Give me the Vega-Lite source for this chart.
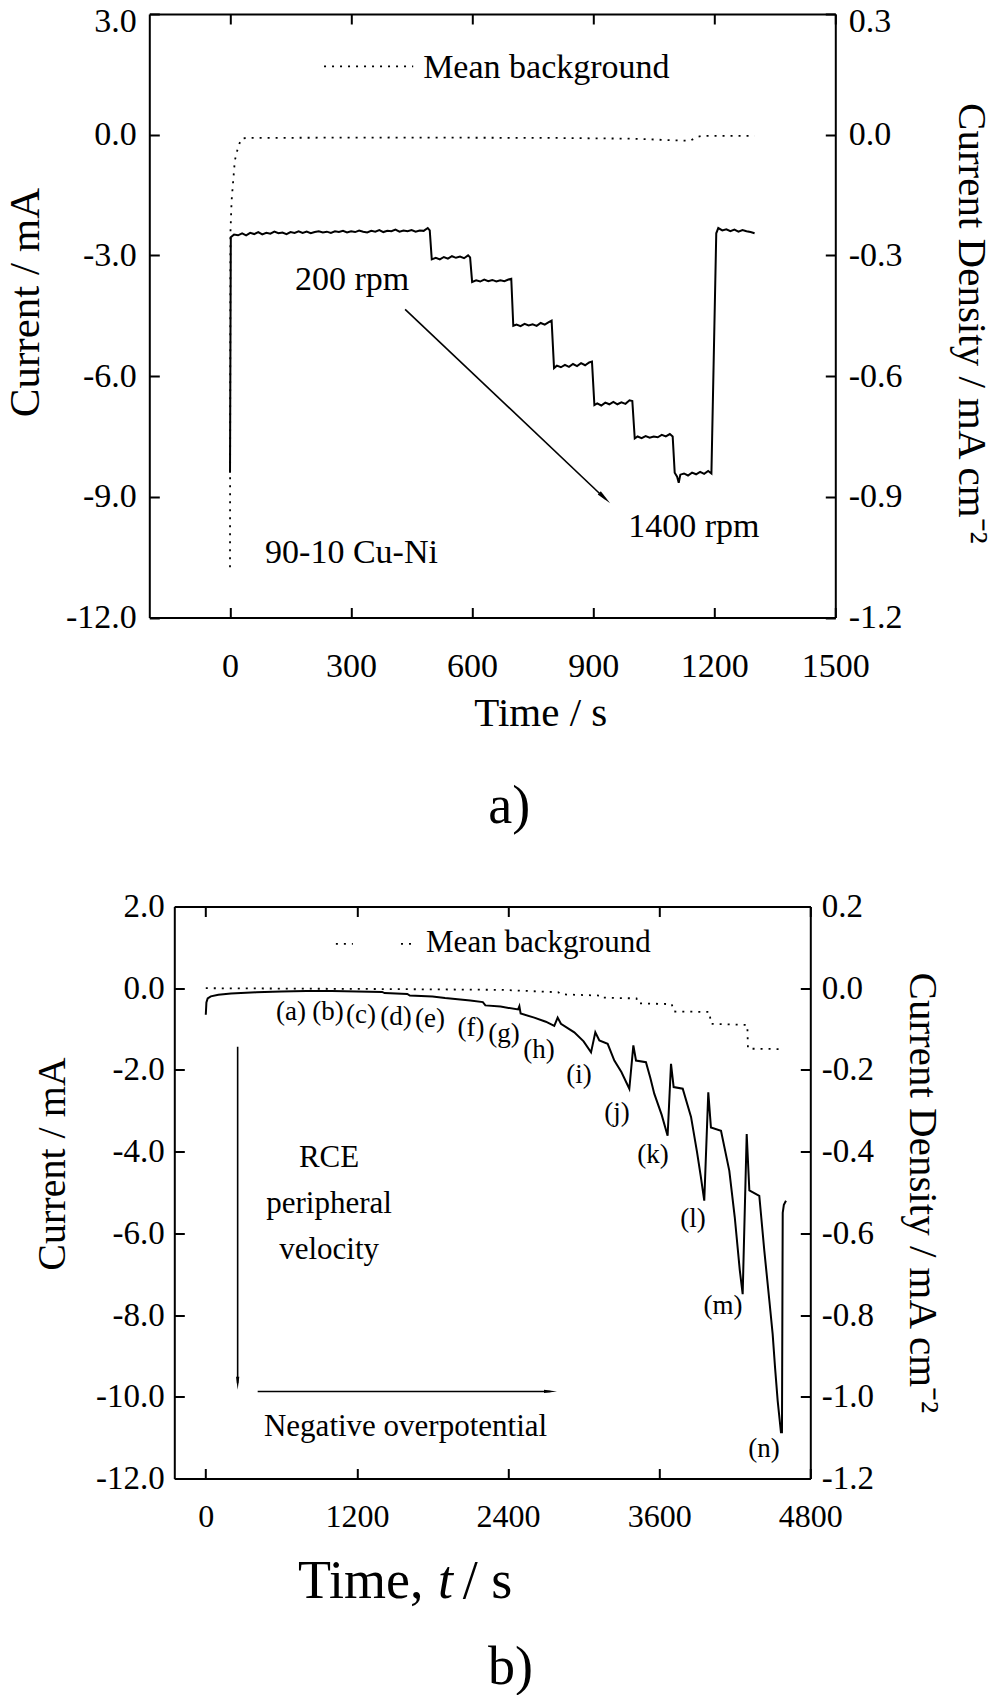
{
  "$schema": "https://vega.github.io/schema/vega-lite/v6.json",
  "autosize": {"type": "none"},
  "padding": {"left": 149.3, "top": 14, "right": 850.7, "bottom": 1681},
  "background": "white",
  "bounds": "flush",
  "center": true,
  "spacing": 288.5,
  "config": {
    "font": "Liberation Serif",
    "locale": {"number": {"decimal": ".", "thousands": ",", "grouping": [3], "currency": ["$", ""], "minus": "-"}},
    "view": {"stroke": null},
    "axis": {
      "grid": false, "domainColor": "black", "domainWidth": 2, "tickColor": "black", "tickWidth": 2,
      "tickSize": -10, "labelColor": "black", "titleColor": "black", "labelFont": "Liberation Serif",
      "titleFont": "Liberation Serif", "titleFontWeight": "normal", "labelFlush": false, "labelOverlap": false
    }
  },
  "datasets": {
    "a_main": [
      {"t":0,"I":-8.4},{"t":2,"I":-2.55},{"t":10,"I":-2.48},{"t":20,"I":-2.5},{"t":30,"I":-2.45},{"t":40,"I":-2.5},{"t":50,"I":-2.44},{"t":60,"I":-2.47},{"t":70,"I":-2.42},{"t":80,"I":-2.48},{"t":90,"I":-2.44},{"t":100,"I":-2.46},{"t":110,"I":-2.41},{"t":120,"I":-2.45},{"t":130,"I":-2.43},{"t":140,"I":-2.47},{"t":150,"I":-2.42},{"t":160,"I":-2.44},{"t":170,"I":-2.4},{"t":180,"I":-2.44},{"t":190,"I":-2.41},{"t":200,"I":-2.45},{"t":210,"I":-2.42},{"t":220,"I":-2.4},{"t":230,"I":-2.43},{"t":240,"I":-2.41},{"t":250,"I":-2.44},{"t":260,"I":-2.4},{"t":270,"I":-2.42},{"t":280,"I":-2.39},{"t":290,"I":-2.43},{"t":300,"I":-2.4},{"t":310,"I":-2.42},{"t":320,"I":-2.38},{"t":330,"I":-2.41},{"t":340,"I":-2.43},{"t":350,"I":-2.39},{"t":360,"I":-2.41},{"t":370,"I":-2.37},{"t":380,"I":-2.42},{"t":390,"I":-2.39},{"t":400,"I":-2.4},{"t":410,"I":-2.36},{"t":420,"I":-2.41},{"t":430,"I":-2.38},{"t":440,"I":-2.4},{"t":450,"I":-2.37},{"t":460,"I":-2.41},{"t":470,"I":-2.38},{"t":480,"I":-2.39},{"t":490,"I":-2.32},{"t":495,"I":-2.38},
      {"t":500,"I":-3.1},{"t":510,"I":-3.06},{"t":520,"I":-3.1},{"t":530,"I":-3.04},{"t":540,"I":-3.08},{"t":550,"I":-3.02},{"t":560,"I":-3.06},{"t":570,"I":-3.03},{"t":580,"I":-3.07},{"t":590,"I":-3.0},{"t":595,"I":-3.05},
      {"t":600,"I":-3.66},{"t":610,"I":-3.62},{"t":620,"I":-3.65},{"t":630,"I":-3.6},{"t":640,"I":-3.64},{"t":650,"I":-3.61},{"t":660,"I":-3.65},{"t":670,"I":-3.62},{"t":680,"I":-3.64},{"t":690,"I":-3.6},{"t":697,"I":-3.58},
      {"t":702,"I":-4.75},{"t":710,"I":-4.72},{"t":720,"I":-4.76},{"t":730,"I":-4.7},{"t":740,"I":-4.74},{"t":750,"I":-4.71},{"t":760,"I":-4.75},{"t":770,"I":-4.68},{"t":780,"I":-4.72},{"t":790,"I":-4.66},{"t":797,"I":-4.62},
      {"t":803,"I":-5.8},{"t":810,"I":-5.74},{"t":820,"I":-5.78},{"t":830,"I":-5.72},{"t":840,"I":-5.77},{"t":850,"I":-5.7},{"t":860,"I":-5.75},{"t":870,"I":-5.68},{"t":880,"I":-5.73},{"t":890,"I":-5.66},{"t":897,"I":-5.64},
      {"t":903,"I":-6.72},{"t":910,"I":-6.68},{"t":920,"I":-6.73},{"t":930,"I":-6.66},{"t":940,"I":-6.7},{"t":950,"I":-6.64},{"t":960,"I":-6.7},{"t":970,"I":-6.65},{"t":980,"I":-6.69},{"t":990,"I":-6.6},{"t":997,"I":-6.62},
      {"t":1003,"I":-7.55},{"t":1010,"I":-7.5},{"t":1020,"I":-7.54},{"t":1030,"I":-7.49},{"t":1040,"I":-7.53},{"t":1050,"I":-7.5},{"t":1060,"I":-7.52},{"t":1070,"I":-7.46},{"t":1080,"I":-7.5},{"t":1090,"I":-7.44},{"t":1097,"I":-7.5},
      {"t":1102,"I":-8.4},{"t":1108,"I":-8.5},{"t":1112,"I":-8.65},{"t":1116,"I":-8.45},{"t":1125,"I":-8.42},{"t":1135,"I":-8.47},{"t":1145,"I":-8.4},{"t":1155,"I":-8.44},{"t":1165,"I":-8.38},{"t":1175,"I":-8.43},{"t":1185,"I":-8.36},{"t":1193,"I":-8.42},
      {"t":1205,"I":-2.45},{"t":1210,"I":-2.32},{"t":1220,"I":-2.38},{"t":1230,"I":-2.35},{"t":1240,"I":-2.4},{"t":1250,"I":-2.36},{"t":1260,"I":-2.41},{"t":1270,"I":-2.37},{"t":1280,"I":-2.4},{"t":1290,"I":-2.42},{"t":1300,"I":-2.45}
    ],
    "a_bg": [
      {"t":0,"I":-10.75},{"t":1,"I":-2.45},{"t":4,"I":-1.63},{"t":12,"I":-0.64},{"t":20,"I":-0.31},{"t":28,"I":-0.1},{"t":40,"I":-0.08},{"t":400,"I":-0.07},{"t":800,"I":-0.08},{"t":1000,"I":-0.1},{"t":1100,"I":-0.14},{"t":1140,"I":-0.15},{"t":1160,"I":-0.05},{"t":1170,"I":-0.03},{"t":1300,"I":-0.03}
    ],
    "b_main": [
      {"t":0,"I":-0.65},{"t":5,"I":-0.35},{"t":15,"I":-0.25},{"t":40,"I":-0.2},{"t":100,"I":-0.16},{"t":200,"I":-0.13},{"t":400,"I":-0.1},{"t":600,"I":-0.08},{"t":800,"I":-0.07},{"t":1000,"I":-0.07},{"t":1200,"I":-0.08},{"t":1400,"I":-0.09},{"t":1420,"I":-0.12},{"t":1600,"I":-0.14},{"t":1620,"I":-0.18},{"t":1800,"I":-0.2},{"t":1900,"I":-0.24},{"t":2000,"I":-0.27},{"t":2100,"I":-0.3},{"t":2200,"I":-0.34},{"t":2220,"I":-0.42},{"t":2340,"I":-0.45},{"t":2480,"I":-0.52},{"t":2490,"I":-0.44},{"t":2500,"I":-0.62},{"t":2608,"I":-0.72},{"t":2700,"I":-0.82},{"t":2767,"I":-0.92},{"t":2794,"I":-0.72},{"t":2820,"I":-0.87},{"t":2926,"I":-1.08},{"t":3000,"I":-1.3},{"t":3059,"I":-1.57},{"t":3093,"I":-1.08},{"t":3125,"I":-1.28},{"t":3191,"I":-1.36},{"t":3244,"I":-1.77},{"t":3300,"I":-2.05},{"t":3363,"I":-2.46},{"t":3395,"I":-1.4},{"t":3416,"I":-1.77},{"t":3495,"I":-1.81},{"t":3530,"I":-2.2},{"t":3561,"I":-2.58},{"t":3620,"I":-3.1},{"t":3667,"I":-3.61},{"t":3694,"I":-1.85},{"t":3715,"I":-2.42},{"t":3787,"I":-2.46},{"t":3853,"I":-3.15},{"t":3900,"I":-4.0},{"t":3930,"I":-4.6},{"t":3958,"I":-5.2},{"t":3990,"I":-2.55},{"t":4011,"I":-3.41},{"t":4091,"I":-3.49},{"t":4157,"I":-4.47},{"t":4200,"I":-5.6},{"t":4240,"I":-6.9},{"t":4263,"I":-7.49},{"t":4295,"I":-3.57},{"t":4316,"I":-4.95},{"t":4395,"I":-5.08},{"t":4435,"I":-6.43},{"t":4475,"I":-7.65},{"t":4501,"I":-8.46},{"t":4520,"I":-9.28},{"t":4541,"I":-10.1},{"t":4567,"I":-10.87},{"t":4575,"I":-10.87},{"t":4581,"I":-5.5},{"t":4590,"I":-5.3},{"t":4607,"I":-5.2}
    ],
    "b_bg": [
      {"t":0,"I":0.0},{"t":1400,"I":-0.02},{"t":2350,"I":-0.04},{"t":2800,"I":-0.1},{"t":2820,"I":-0.15},{"t":3130,"I":-0.18},{"t":3140,"I":-0.23},{"t":3420,"I":-0.25},{"t":3430,"I":-0.37},{"t":3700,"I":-0.39},{"t":3715,"I":-0.57},{"t":4000,"I":-0.58},{"t":4010,"I":-0.87},{"t":4300,"I":-0.9},{"t":4305,"I":-1.48},{"t":4575,"I":-1.49}
    ]
  },
  "vconcat": [
    {
      "width": 686,
      "height": 603.5,
      "layer": [
        {
          "encoding": {
            "x": {"field": "t", "type": "quantitative", "scale": {"domain": [-200, 1500], "nice": false, "zero": false},
              "axis": {"orient": "bottom", "values": [0, 300, 600, 900, 1200, 1500], "format": "d", "labelFontSize": 34, "labelPadding": 42,
                "title": "Time / s", "titleFontSize": 41, "titleX": 391, "titleY": 107.5, "titleAlign": "center", "titleBaseline": "alphabetic", "titleAngle": 0}},
            "y": {"field": "I", "type": "quantitative", "scale": {"domain": [-12, 3], "nice": false, "zero": false},
              "axis": {"orient": "left", "values": [-12, -9, -6, -3, 0, 3], "format": ".1f", "labelFontSize": 34, "labelPadding": 23,
                "labelOffset": {"condition": {"test": "datum.value >= 2.9", "value": 7}, "value": 0},
                "title": "Current / mA", "titleFontSize": 43, "titleX": -111, "titleY": 288, "titleAngle": -90, "titleAlign": "center", "titleBaseline": "alphabetic"}}
          },
          "layer": [
            {"data": {"name": "a_bg"}, "mark": {"type": "line", "color": "black", "strokeWidth": 1.8, "strokeDash": [2, 6], "strokeCap": "butt"}},
            {"data": {"name": "a_main"}, "mark": {"type": "line", "color": "black", "strokeWidth": 2}},
            {"data": {"values": [{"t": 233, "I": 1.696}, {"t": 454, "I": 1.696}]}, "mark": {"type": "line", "color": "black", "strokeWidth": 1.8, "strokeDash": [2, 6], "strokeCap": "butt"}},
            {"data": {"values": [{"t": 434, "I": -4.34}, {"t": 931, "I": -9.06}]}, "mark": {"type": "line", "color": "black", "strokeWidth": 1.6}},
            {"data": {"values": [{"t": 928.6, "I": -9.03}]}, "mark": {"type": "point", "filled": true, "color": "black", "opacity": 1, "shape": "M0,-1L0.3,1L-0.3,1Z", "size": 225, "angle": 133.4}},
            {"data": {"values": [
              {"t": 478.6, "I": 1.40, "label": "Mean background"},
              {"t": 161, "I": -3.87, "label": "200 rpm"},
              {"t": 987, "I": -10.0, "label": "1400 rpm"},
              {"t": 87, "I": -10.65, "label": "90-10 Cu-Ni"}
            ]}, "mark": {"type": "text", "align": "left", "baseline": "alphabetic", "fontSize": 34, "color": "black"}, "encoding": {"text": {"field": "label"}}},
            {"data": {"values": [{"t": 640, "I": -17.11, "label": "a)"}]}, "mark": {"type": "text", "align": "left", "baseline": "alphabetic", "fontSize": 54, "color": "black"}, "encoding": {"text": {"field": "label"}}}
          ]
        },
        {
          "data": {"values": [{"t": 0, "cd": 0}]},
          "mark": {"type": "point", "opacity": 0},
          "encoding": {
            "x": {"field": "t", "type": "quantitative", "scale": {"domain": [-200, 1500], "nice": false, "zero": false},
              "axis": {"orient": "top", "values": [0, 300, 600, 900, 1200, 1500], "labels": false, "title": null}},
            "y": {"field": "cd", "type": "quantitative", "scale": {"domain": [-1.2, 0.3], "nice": false, "zero": false},
              "axis": {"orient": "right", "values": [-1.2, -0.9, -0.6, -0.3, 0, 0.3], "format": ".1f", "labelFontSize": 34, "labelPadding": 23,
                "labelOffset": {"condition": {"test": "datum.value >= 0.29", "value": 7}, "value": 0},
                "title": "Current Density / mA cm⁻²", "titleFontSize": 41, "titleX": 123, "titleY": 309, "titleAngle": 90, "titleAlign": "center", "titleBaseline": "alphabetic"}}
          }
        }
      ],
      "resolve": {"scale": {"y": "independent"}, "axis": {"x": "independent"}}
    },
    {
      "width": 636,
      "height": 572,
      "layer": [
        {
          "encoding": {
            "x": {"field": "t", "type": "quantitative", "scale": {"domain": [-250, 4800], "nice": false, "zero": false},
              "axis": {"orient": "bottom", "values": [0, 1200, 2400, 3600, 4800], "format": "d", "labelFontSize": 32, "labelPadding": 33, "title": null}},
            "y": {"field": "I", "type": "quantitative", "scale": {"domain": [-12, 2], "nice": false, "zero": false},
              "axis": {"orient": "left", "values": [-12, -10, -8, -6, -4, -2, 0, 2], "format": ".1f", "labelFontSize": 33, "labelPadding": 20,
                "title": "Current / mA", "titleFontSize": 40, "titleX": -110, "titleY": 257, "titleAngle": -90, "titleAlign": "center", "titleBaseline": "alphabetic"}}
          },
          "layer": [
            {"data": {"name": "b_bg"}, "mark": {"type": "line", "color": "black", "strokeWidth": 1.8, "strokeDash": [2, 6], "strokeCap": "butt"}},
            {"data": {"name": "b_main"}, "mark": {"type": "line", "color": "black", "strokeWidth": 2}},
            {"data": {"values": [{"seg": 1, "t": 1033, "I": 1.087}, {"seg": 1, "t": 1168, "I": 1.087}, {"seg": 2, "t": 1550, "I": 1.087}, {"seg": 2, "t": 1653, "I": 1.087}]},
              "mark": {"type": "line", "color": "black", "strokeWidth": 1.8, "strokeDash": [2, 6], "strokeCap": "butt"}, "encoding": {"detail": {"field": "seg"}}},
            {"data": {"values": [{"t": 253, "I": -1.43}, {"t": 253, "I": -9.67}]}, "mark": {"type": "line", "color": "black", "strokeWidth": 1.6}},
            {"data": {"values": [{"t": 412, "I": -9.87}, {"t": 2737, "I": -9.87}]}, "mark": {"type": "line", "color": "black", "strokeWidth": 1.6}},
            {"data": {"values": [{"t": 253, "I": -9.67}]}, "mark": {"type": "point", "filled": true, "color": "black", "opacity": 1, "shape": "M0,-1L0.25,1L-0.25,1Z", "size": 169, "angle": 180}},
            {"data": {"values": [{"t": 2737, "I": -9.87}]}, "mark": {"type": "point", "filled": true, "color": "black", "opacity": 1, "shape": "M0,-1L0.25,1L-0.25,1Z", "size": 169, "angle": 90}},
            {"data": {"values": [
              {"t": 676, "I": -0.79, "label": "(a)"},
              {"t": 970, "I": -0.79, "label": "(b)"},
              {"t": 1232, "I": -0.86, "label": "(c)"},
              {"t": 1510, "I": -0.91, "label": "(d)"},
              {"t": 1780, "I": -0.94, "label": "(e)"},
              {"t": 2106, "I": -1.16, "label": "(f)"},
              {"t": 2368, "I": -1.31, "label": "(g)"},
              {"t": 2646, "I": -1.72, "label": "(h)"},
              {"t": 2964, "I": -2.31, "label": "(i)"},
              {"t": 3265, "I": -3.24, "label": "(j)"},
              {"t": 3551, "I": -4.27, "label": "(k)"},
              {"t": 3869, "I": -5.84, "label": "(l)"},
              {"t": 4107, "I": -7.97, "label": "(m)"},
              {"t": 4433, "I": -11.47, "label": "(n)"}
            ]}, "mark": {"type": "text", "align": "center", "baseline": "alphabetic", "fontSize": 27, "color": "black"}, "encoding": {"text": {"field": "label"}}},
            {"data": {"values": [
              {"t": 1749, "I": 0.88, "label": "Mean background"},
              {"t": 462, "I": -10.95, "label": "Negative overpotential"}
            ]}, "mark": {"type": "text", "align": "left", "baseline": "alphabetic", "fontSize": 31, "color": "black"}, "encoding": {"text": {"field": "label"}}},
            {"data": {"values": [
              {"t": 979, "I": -4.38, "label": "RCE"},
              {"t": 979, "I": -5.51, "label": "peripheral"},
              {"t": 979, "I": -6.63, "label": "velocity"}
            ]}, "mark": {"type": "text", "align": "center", "baseline": "alphabetic", "fontSize": 31, "color": "black"}, "encoding": {"text": {"field": "label"}}},
            {"data": {"values": [
              {"t": 732, "I": -14.92, "label": "Time,"},
              {"t": 2040, "I": -14.92, "label": "/ s"},
              {"t": 2241, "I": -17.03, "label": "b)"}
            ]}, "mark": {"type": "text", "align": "left", "baseline": "alphabetic", "fontSize": 54, "color": "black"}, "encoding": {"text": {"field": "label"}}},
            {"data": {"values": [{"t": 1844, "I": -14.92, "label": "t"}]}, "mark": {"type": "text", "align": "left", "baseline": "alphabetic", "fontSize": 54, "fontStyle": "italic", "color": "black"}, "encoding": {"text": {"field": "label"}}}
          ]
        },
        {
          "data": {"values": [{"t": 0, "cd": 0}]},
          "mark": {"type": "point", "opacity": 0},
          "encoding": {
            "x": {"field": "t", "type": "quantitative", "scale": {"domain": [-250, 4800], "nice": false, "zero": false},
              "axis": {"orient": "top", "values": [0, 1200, 2400, 3600, 4800], "labels": false, "title": null}},
            "y": {"field": "cd", "type": "quantitative", "scale": {"domain": [-1.2, 0.2], "nice": false, "zero": false},
              "axis": {"orient": "right", "values": [-1.2, -1.0, -0.8, -0.6, -0.4, -0.2, 0, 0.2], "format": ".1f", "labelFontSize": 33, "labelPadding": 21,
                "title": "Current Density / mA cm⁻²", "titleFontSize": 41, "titleX": 99, "titleY": 286, "titleAngle": 90, "titleAlign": "center", "titleBaseline": "alphabetic"}}
          }
        }
      ],
      "resolve": {"scale": {"y": "independent"}, "axis": {"x": "independent"}}
    }
  ]
}
